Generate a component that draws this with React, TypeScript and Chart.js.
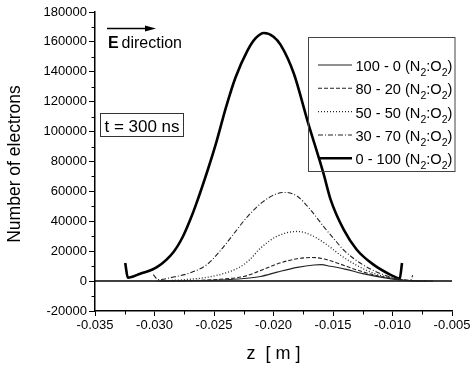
import React, { useEffect, useRef } from 'react';
import { Chart, registerables } from 'chart.js';

Chart.register(...registerables);

const FONT = '"Liberation Sans", Arial, sans-serif';

// Categories / legend labels
const seriesLabels = ['100 - 0', '80 - 20', '50 - 50', '30 - 70', '0 - 100'];

// Tick values
const xTickValues = [-0.035, -0.03, -0.025, -0.02, -0.015, -0.01, -0.005];
const yTickValues = [-20000, 0, 20000, 40000, 60000, 80000, 100000, 120000, 140000, 160000, 180000];

// 100 - 0 (N2:O2)
const z100_0 = [-0.0294, -0.027, -0.0245, -0.0225, -0.0211, -0.0197, -0.018, -0.0166, -0.016, -0.0152, -0.014, -0.0125, -0.0105, -0.0095, -0.0085, -0.0075, -0.0066];
const n100_0 = [0, 200, 700, 1700, 3100, 6000, 9200, 10800, 11000, 9900, 8000, 5000, 2000, 900, 300, 80, 0];

// 80 - 20 (N2:O2)
const z80_20 = [-0.0296, -0.027, -0.0245, -0.0225, -0.0211, -0.0197, -0.018, -0.0167, -0.0155, -0.0144, -0.013, -0.0115, -0.01, -0.009, -0.008, -0.0072];
const n80_20 = [0, 300, 1200, 3100, 7000, 11500, 15000, 15800, 14300, 11400, 7500, 4000, 1700, 600, 200, 50];

// 50 - 50 (N2:O2)
const z50_50 = [-0.0298, -0.0276, -0.0256, -0.024, -0.0228, -0.022, -0.0211, -0.0197, -0.018, -0.0169, -0.0155, -0.0144, -0.013, -0.0115, -0.01, -0.009, -0.008, -0.007];
const n50_50 = [0, 900, 2500, 5500, 9500, 14300, 22000, 30000, 33200, 31000, 24300, 17500, 10500, 5000, 1800, 600, 200, 50];

// 30 - 70 (N2:O2)
const z30_70 = [-0.0301, -0.0297, -0.0284, -0.027, -0.0256, -0.0245, -0.0234, -0.0222, -0.0209, -0.0197, -0.019, -0.018, -0.0169, -0.0158, -0.015, -0.014, -0.0125, -0.011, -0.01, -0.009, -0.0085, -0.0083];
const n30_70 = [4300, 1000, 2700, 5500, 11000, 20000, 31000, 43000, 53000, 58500, 59300, 56700, 47800, 36600, 29000, 20000, 11000, 5000, 2300, 800, 300, 4000];

// 0 - 100 (N2:O2)
const z0_100 = [-0.03246, -0.03224, -0.0312, -0.0298, -0.0284, -0.0276, -0.027, -0.0265, -0.0255, -0.0248, -0.024, -0.0232, -0.0222, -0.0215, -0.0208, -0.02, -0.0194, -0.0183, -0.0171, -0.0158, -0.0152, -0.0141, -0.013, -0.0116, -0.0102, -0.0095, -0.0094, -0.0092];
const n0_100 = [12100, 2300, 4950, 9300, 19500, 30000, 41000, 51500, 75000, 93000, 116000, 136000, 154000, 162500, 166000, 163500, 158000, 139000, 106000, 72000, 54500, 34400, 21000, 11000, 4300, 1800, 1400, 12100];

const seriesZ = [z100_0, z80_20, z50_50, z30_70, z0_100];
const seriesN = [n100_0, n80_20, n50_50, n30_70, n0_100];
const seriesDash: number[][] = [[], [4, 2], [1, 2], [5, 2, 1, 2], []];
const seriesWidth = [1.1, 1.1, 1.3, 1.1, 2.6];
const seriesColor = ['#222', '#222', '#222', '#222', '#000'];

const overlayPlugin = {
  id: 'overlay',
  beforeDatasetsDraw(chart: any) {
    const { ctx, chartArea, scales } = chart;
    const y0 = scales.y.getPixelForValue(0);
    ctx.save();
    ctx.strokeStyle = '#000';
    ctx.lineWidth = 1.5;
    ctx.beginPath();
    ctx.moveTo(chartArea.left, y0);
    ctx.lineTo(chartArea.right, y0);
    ctx.stroke();
    ctx.restore();
  },
  afterDraw(chart: any) {
    const { ctx, chartArea, scales } = chart;
    ctx.save();
    ctx.strokeStyle = '#000';
    ctx.fillStyle = '#000';
    ctx.lineWidth = 1;
    // minor ticks
    for (let i = 0; i < xTickValues.length - 1; i++) {
      const v = (xTickValues[i] + xTickValues[i + 1]) / 2;
      const px = Math.round(scales.x.getPixelForValue(v)) + 0.5;
      ctx.beginPath();
      ctx.moveTo(px, chartArea.bottom);
      ctx.lineTo(px, chartArea.bottom + 3.5);
      ctx.stroke();
    }
    for (let i = 0; i < yTickValues.length - 1; i++) {
      const v = (yTickValues[i] + yTickValues[i + 1]) / 2;
      const py = Math.round(scales.y.getPixelForValue(v)) + 0.5;
      ctx.beginPath();
      ctx.moveTo(chartArea.left, py);
      ctx.lineTo(chartArea.left - 3.5, py);
      ctx.stroke();
    }
    // axis titles
    ctx.textAlign = 'center';
    ctx.textBaseline = 'middle';
    ctx.font = `17.5px ${FONT}`;
    ctx.save();
    ctx.translate(15, 164);
    ctx.rotate(-Math.PI / 2);
    ctx.fillText('Number of electrons', 0, 0);
    ctx.restore();
    ctx.font = `18px ${FONT}`;
    ctx.fillText('z  [ m ]', (chartArea.left + chartArea.right) / 2, 354);

    // E direction arrow
    ctx.lineWidth = 1.5;
    ctx.beginPath();
    ctx.moveTo(107, 28.5);
    ctx.lineTo(148, 28.5);
    ctx.stroke();
    ctx.beginPath();
    ctx.moveTo(156, 28.5);
    ctx.lineTo(145, 25.5);
    ctx.lineTo(145, 31.5);
    ctx.closePath();
    ctx.fill();
    ctx.textAlign = 'left';
    ctx.textBaseline = 'alphabetic';
    ctx.font = `bold 16px ${FONT}`;
    ctx.fillText('E', 108, 47.5);
    ctx.font = `16px ${FONT}`;
    ctx.fillText('direction', 121.5, 47.5);

    // t = 300 ns box
    ctx.lineWidth = 1;
    ctx.strokeStyle = '#333';
    ctx.strokeRect(100.5, 113.5, 83, 23);
    ctx.font = `17px ${FONT}`;
    ctx.textAlign = 'center';
    ctx.fillText('t = 300 ns', 142, 131.5);

    // legend
    ctx.strokeStyle = '#444';
    ctx.lineWidth = 1;
    ctx.strokeRect(308.5, 37.5, 146.5, 134);
    const rowY = [65, 88.3, 111.7, 135, 158.3];
    for (let i = 0; i < seriesLabels.length; i++) {
      const y = rowY[i];
      ctx.save();
      ctx.strokeStyle = seriesColor[i];
      ctx.lineWidth = seriesWidth[i];
      ctx.setLineDash(seriesDash[i]);
      ctx.beginPath();
      ctx.moveTo(318, y);
      ctx.lineTo(352, y);
      ctx.stroke();
      ctx.restore();
      ctx.textAlign = 'left';
      ctx.textBaseline = 'alphabetic';
      let x = 355.5;
      const base = y + 6;
      const parts: [string, boolean][] = [
        [seriesLabels[i] + ' (N', false],
        ['2', true],
        [':O', false],
        ['2', true],
        [')', false],
      ];
      for (const [t, sub] of parts) {
        ctx.font = sub ? `10.5px ${FONT}` : `14.6px ${FONT}`;
        ctx.fillText(t, x, sub ? base + 5 : base);
        x += ctx.measureText(t).width;
      }
    }
    ctx.restore();
  },
};

export default function App() {
  const ref = useRef<HTMLCanvasElement | null>(null);
  useEffect(() => {
    if (!ref.current) return;
    const datasets = seriesLabels.map((label, i) => ({
      label,
      data: seriesZ[i].map((z, j) => ({ x: z, y: seriesN[i][j] })),
      borderColor: seriesColor[i],
      borderWidth: seriesWidth[i],
      borderDash: seriesDash[i],
      pointRadius: 0,
      showLine: true,
      fill: false,
      cubicInterpolationMode: 'monotone' as const,
    }));
    const chart = new Chart(ref.current, {
      type: 'scatter',
      data: { datasets },
      plugins: [overlayPlugin],
      options: {
        animation: false,
        responsive: false,
        devicePixelRatio: 1,
        layout: { padding: { top: 12, right: 22, left: 0, bottom: 0 } },
        plugins: { legend: { display: false }, tooltip: { enabled: false } },
        scales: {
          x: {
            type: 'linear',
            min: -0.035,
            max: -0.005,
            afterBuildTicks: (s: any) => {
              s.ticks = xTickValues.map((v) => ({ value: v }));
            },
            afterFit: (s: any) => {
              s.height = 54;
            },
            ticks: {
              callback: (v: any) => Number(v).toFixed(3),
              font: { family: FONT, size: 13 },
              color: '#000',
              padding: 2,
              maxRotation: 0,
              autoSkip: false,
            },
            grid: { drawOnChartArea: false, drawTicks: true, tickLength: 5, color: '#000', lineWidth: 1 },
            border: { display: true, color: '#000', width: 1.5 },
          },
          y: {
            type: 'linear',
            min: -20000,
            max: 180000,
            afterBuildTicks: (s: any) => {
              s.ticks = yTickValues.map((v) => ({ value: v }));
            },
            afterFit: (s: any) => {
              s.width = 95;
            },
            ticks: {
              callback: (v: any) => String(v),
              font: { family: FONT, size: 13 },
              color: '#000',
              padding: 2,
              autoSkip: false,
            },
            grid: { drawOnChartArea: false, drawTicks: true, tickLength: 6, color: '#000', lineWidth: 1 },
            border: { display: true, color: '#000', width: 1.5 },
          },
        },
      },
    });
    return () => chart.destroy();
  }, []);
  return (
    <div style={{ position: 'fixed', left: 0, top: 0, width: 474, height: 365, background: '#fff' }}>
      <canvas ref={ref} width={474} height={365} style={{ display: 'block' }} />
    </div>
  );
}
